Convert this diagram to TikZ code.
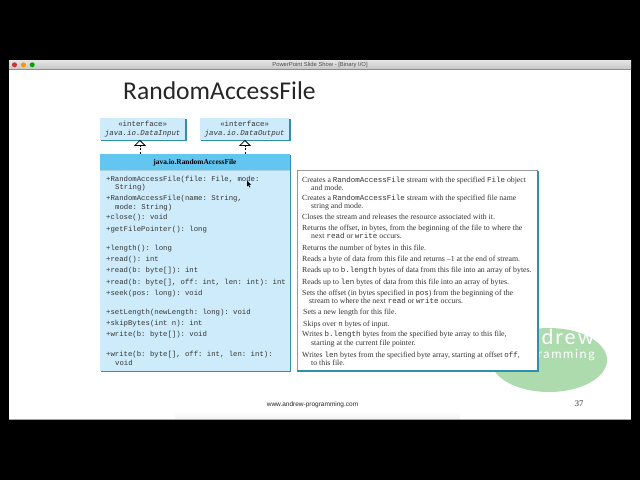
\documentclass[tikz,border=0pt]{standalone}
\usepackage{fontspec}
\setmainfont{Liberation Serif}
\setmonofont{Liberation Mono}
\newfontfamily\titlefont{Carlito}
\newfontfamily\sansf{Liberation Sans}
\newfontfamily\logoa[LetterSpace=10]{Lato}
\newfontfamily\logob[LetterSpace=13]{Lato}
\definecolor{boxblue}{HTML}{CDEBFA}
\definecolor{headblue}{HTML}{62C6F0}
\definecolor{teal}{HTML}{2F8FAD}
\definecolor{logo}{HTML}{ADDBAE}
\tikzset{
 sig/.style={anchor=base west,inner sep=0,font=\ttfamily\fontsize{7.3}{8}\selectfont,text=black!80},
 desc/.style={anchor=base west,inner sep=0,font=\fontsize{7.8}{8}\selectfont,text=black!80},
 iface/.style={inner sep=0,font=\ttfamily\fontsize{7.4}{9.2}\selectfont,align=center,text=black!80},
 uml/.style={dashed,dash pattern=on 2.5pt off 1.5pt,line width=0.9pt,-{Triangle[open,fill=white,length=6pt,width=12pt,line width=.8pt]}},
}
\usetikzlibrary{arrows.meta}
\newcommand{\mm}[1]{{\ttfamily\fontsize{7.5}{8}\selectfont #1}}
\begin{document}
\begin{tikzpicture}[x=1pt,y=-1pt]
\useasboundingbox (0,0) rectangle (640,480);
\fill[black] (0,0) rectangle (640,480);
\fill[white] (9,60) rectangle (631,419);
\shade[top color=white,bottom color=black!5] (175,411) rectangle (460,419);
\shade[top color=black!10,bottom color=black!22] (9,60) rectangle (631,69);
\draw[black!45,line width=.5pt] (9,69.5) -- (631,69.5);
\fill[black!35!white] (9,419) rectangle (631,419.6);
\fill[red!75!black!80] (14.5,64.8) circle (2.5);
\fill[orange!85!yellow] (23.5,64.8) circle (2.5);
\fill[green!65!black] (32.2,64.8) circle (2.5);
\node[inner sep=0,font=\sansf\fontsize{5.85}{6}\selectfont,text=black!70] (wt) at (320,65) {PowerPoint Slide Show - [Binary I/O]};
\node[anchor=base west,inner sep=0,font=\titlefont\fontsize{25.6}{26}\selectfont,text=black!85] (title) at (123,99.5) {RandomAccessFile};
% logo
\fill[logo] (549,360) ellipse (58 and 32);
\node[anchor=base east,inner sep=0,font=\logoa\fontsize{21}{22}\selectfont,text=white] (la) at (594.5,344) {Andrew};
\node[anchor=base east,inner sep=0,font=\logob\fontsize{12.5}{13}\selectfont,text=white] (lp) at (595,358) {Programming};
% interface boxes
\fill[teal] (101,119) rectangle (187,141);
\fill[teal] (201,119) rectangle (291,141);
\node[fill=boxblue,minimum width=85pt,minimum height=21.5pt,anchor=north west,iface,inner sep=0] (di) at (100,118) {«interface»\\\itshape java.io.DataInput};
\node[fill=boxblue,minimum width=89pt,minimum height=21.5pt,anchor=north west,iface,inner sep=0] (do) at (200,118) {«interface»\\\itshape java.io.DataOutput};
% class box
\fill[teal] (101,155) rectangle (291,372);
\fill[boxblue] (100,171) rectangle (289.5,370.5);
\node[fill=headblue,minimum width=189.5pt,minimum height=16.5pt,anchor=north west,inner sep=0,font=\bfseries\fontsize{7.4}{8}\selectfont] (cls) at (100,154) {java.io.RandomAccessFile};
\draw[white!60!teal,line width=.5pt] (100,170.5) -- (289.5,170.5);
\coordinate (c1) at ([xshift=-55pt]cls.north);
\coordinate (c2) at ([xshift=50pt]cls.north);
\draw[uml] (c1) -- (c1 |- di.south);
\draw[uml] (c2) -- (c2 |- do.south);
% signatures
\node[sig] (s1) at (106,181.5) {+RandomAccessFile(file: File, mode:};
\node[sig] (s1b) at (115,189.5) {String)};
\node[sig] (s2) at (106,200.5) {+RandomAccessFile(name: String,};
\node[sig] (s2b) at (115,209.5) {mode: String)};
\node[sig] (s3) at (106,219.5) {+close(): void};
\node[sig] (s4) at (106,231) {+getFilePointer(): long};
\node[sig] (s5) at (106,250.5) {+length(): long};
\node[sig] (s6) at (106,261.5) {+read(): int};
\node[sig] (s7) at (106,272.5) {+read(b: byte[]): int};
\node[sig] (s8) at (106,284.5) {+read(b: byte[], off: int, len: int): int};
\node[sig] (s9) at (106,295.5) {+seek(pos: long): void};
\node[sig] (s10) at (106,314.5) {+setLength(newLength: long): void};
\node[sig] (s11) at (106,325.5) {+skipBytes(int n): int};
\node[sig] (s12) at (106,336.5) {+write(b: byte[]): void};
\node[sig] (s13) at (106,356.5) {+write(b: byte[], off: int, len: int):};
\node[sig] (s13b) at (115,365.5) {void};
% description box
\draw[black!40,line width=.5pt,fill=white] (297,170.5) rectangle (537.5,370.5);
\draw[teal,line width=1.4pt] (297,371) -- (538,371) -- (538,170.5);
\node[desc] (d1) at (302,182.5) {Creates a \mm{RandomAccessFile} stream with the specified \mm{File} object};
\node[desc] (d1b) at (311,190) {and mode.};
\node[desc] (d2) at (302,200.5) {Creates a \mm{RandomAccessFile} stream with the specified file name};
\node[desc] (d2b) at (311,208.5) {string and mode.};
\node[desc] (d3) at (302,219.5) {Closes the stream and releases the resource associated with it.};
\node[desc] (d4) at (302,230.5) {Returns the offset, in bytes, from the beginning of the file to where the};
\node[desc] (d4b) at (311,238.5) {next \mm{read} or \mm{write} occurs.};
\node[desc] (d5) at (302,250.5) {Returns the number of bytes in this file.};
\node[desc] (d6) at (302,261.5) {Reads a byte of data from this file and returns –1 at the end of stream.};
\node[desc] (d7) at (302,272.5) {Reads up to \mm{b.length} bytes of data from this file into an array of bytes.};
\node[desc] (d8) at (302,284.5) {Reads up to \mm{len} bytes of data from this file into an array of bytes.};
\node[desc] (d9) at (302,295.5) {Sets the offset (in bytes specified in \mm{pos}) from the beginning of the};
\node[desc] (d9b) at (309,303.5) {stream to where the next \mm{read} or \mm{write} occurs.};
\node[desc] (d10) at (303,314.5) {Sets a new length for this file.};
\node[desc] (d11) at (303,326) {Skips over \mm{n} bytes of input.};
\node[desc] (d12) at (302,336.5) {Writes \mm{b.length} bytes from the specified byte array to this file,};
\node[desc] (d12b) at (311,345.5) {starting at the current file pointer.};
\node[desc] (d13) at (302,357) {Writes \mm{len} bytes from the specified byte array, starting at offset \mm{off},};
\node[desc] (d13b) at (311,365.5) {to this file.};
% footer
\node[inner sep=0,font=\sansf\fontsize{6.5}{7}\selectfont,text=black!85] (web) at (312.5,404.5) {www.andrew-programming.com};
\node[inner sep=0,font=\fontsize{8.5}{9}\selectfont,text=black!85] (pg) at (579,403.5) {37};
% cursor
\fill[black] (247,180.5) -- (247,186.5) -- (248.4,185.3) -- (249.6,187.5) -- (250.3,187) -- (249.3,185) -- (251,184.8) -- cycle;
\end{tikzpicture}
\end{document}
